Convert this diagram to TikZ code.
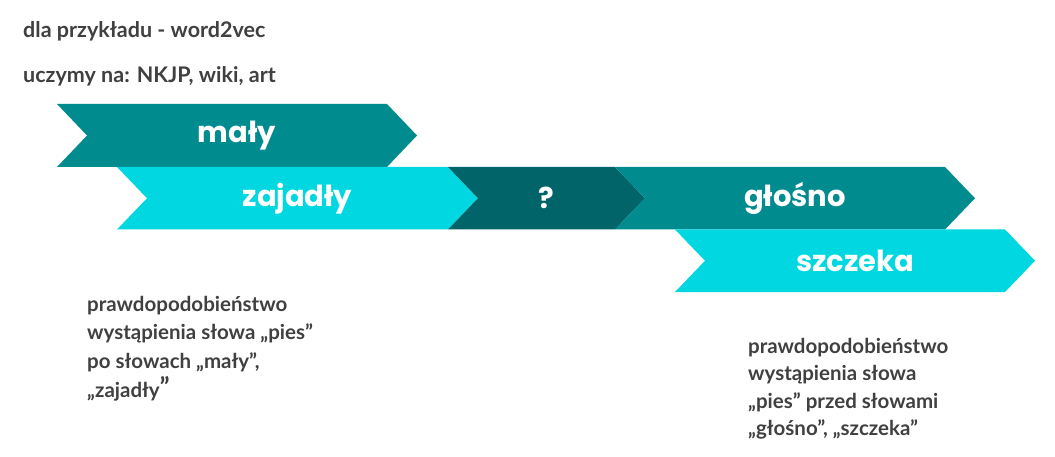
\documentclass[tikz,border=0pt]{standalone}
\usepackage{fontspec}
\setmainfont{Lato}
\newfontfamily\popfont{Poppins}
\definecolor{tealA}{RGB}{0,140,143}
\definecolor{cyanA}{RGB}{0,215,224}
\definecolor{darkA}{RGB}{0,100,104}
\definecolor{txtA}{RGB}{64,64,64}
\newcommand\chevshape[7]{%
  \fill[#6] (#2,#4) -- (#3,#4) -- (#3+30,{(#4+#5)/2}) -- (#3,#5) -- (#2,#5) -- (#2+30,{(#4+#5)/2}) -- cycle;
  \node[lbl] (#1) at ({(#2+#3+30)/2},{(#4+#5)/2}) {#7};}
\tikzset{
  lbl/.style={text=white, font=\popfont\bfseries\fontsize{29}{29}\selectfont, inner sep=0pt},
  para/.style={text=txtA, font=\bfseries\fontsize{20.5}{22}\selectfont, anchor=base west, inner sep=0pt}
}
\begin{document}
\begin{tikzpicture}[x=1pt,y=-1pt]
\useasboundingbox (0,0) rectangle (1055,457);
\fill[white] (0,0) rectangle (1055,457);
\chevshape{maly}{57}{387}{104}{167}{tealA}{mały}
\chevshape{zajadly}{117}{448}{167}{229.5}{cyanA}{zajadły}
\chevshape{q}{448}{615}{167}{229.5}{darkA}{?}
\chevshape{glosno}{615}{945}{167}{229.5}{tealA}{głośno}
\chevshape{szczeka}{675}{1005}{229.5}{292}{cyanA}{szczeka}
\node[para, font=\bfseries\fontsize{21.5}{22}\selectfont] (t1) at (23,38) {dla przykładu - word2vec};
\node[para, font=\bfseries\fontsize{21.5}{22}\selectfont] (t2) at (23,83) {uczymy na: NKJP, wiki, art};
\node[para] (a1) at (87,311) {prawdopodobieństwo};
\node[para] (a2) at (87,339) {wystąpienia słowa „pies”};
\node[para] (a3) at (87,368) {po słowach „mały”,};
\node[para] (a4) at (87,397) {„zajadły{\fontsize{26}{26}\selectfont\raisebox{1pt}{”}}};
\node[para] (b1) at (748,353) {prawdopodobieństwo};
\node[para] (b2) at (748,380.5) {wystąpienia słowa};
\node[para] (b3) at (748,408) {„pies” przed słowami};
\node[para] (b4) at (748,435.5) {„głośno”, „szczeka”};
\end{tikzpicture}
\end{document}
